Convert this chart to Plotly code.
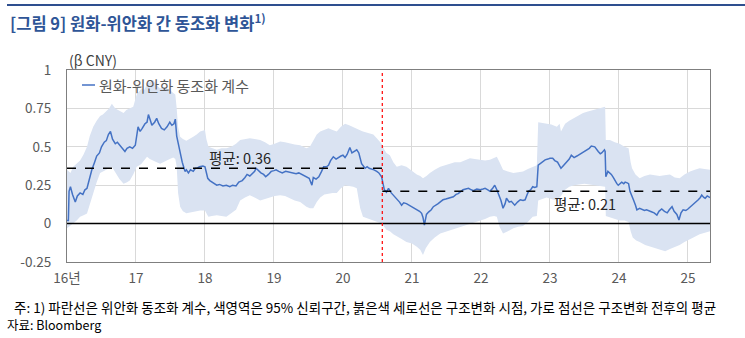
import plotly.graph_objects as go

# ---------------- data (decimal years) ----------------
line_x = [2016.00,2016.02,2016.03,2016.05,2016.08,2016.12,2016.15,2016.19,2016.23,2016.26,2016.29,2016.33,2016.36,2016.40,2016.43,2016.47,2016.50,2016.54,2016.57,2016.60,2016.63,2016.66,2016.70,2016.73,2016.77,2016.80,2016.84,2016.87,2016.91,2016.95,2016.99,
2017.03,2017.06,2017.09,2017.13,2017.16,2017.18,2017.21,2017.23,2017.27,2017.30,2017.33,2017.37,2017.41,2017.45,2017.49,2017.52,2017.55,2017.57,2017.59,2017.62,2017.64,2017.67,2017.69,2017.71,2017.73,2017.76,2017.79,2017.83,2017.86,2017.88,2017.92,2017.97,
2018.00,2018.02,2018.04,2018.07,2018.10,2018.13,2018.17,2018.21,2018.26,2018.31,2018.36,2018.40,2018.45,2018.49,2018.54,2018.58,2018.61,2018.65,2018.69,2018.72,2018.74,2018.78,2018.81,2018.85,2018.88,2018.92,2018.96,
2019.00,2019.03,2019.07,2019.12,2019.17,2019.22,2019.27,2019.32,2019.36,2019.41,2019.46,2019.51,2019.55,2019.57,2019.61,2019.65,2019.69,2019.72,2019.76,2019.79,2019.82,2019.86,2019.90,2019.93,2019.97,
2020.00,2020.03,2020.06,2020.10,2020.13,2020.17,2020.20,2020.23,2020.27,2020.32,2020.35,2020.38,2020.42,2020.45,2020.49,2020.52,2020.56,2020.58,2020.60,2020.63,2020.66,2020.70,2020.74,2020.78,2020.82,2020.85,2020.88,2020.92,2020.96,2020.99,
2021.03,2021.07,2021.11,2021.14,2021.16,2021.18,2021.20,2021.21,2021.24,2021.28,2021.31,2021.35,2021.38,2021.42,2021.45,2021.49,2021.53,2021.57,2021.60,2021.64,2021.67,2021.71,2021.74,2021.78,2021.82,2021.86,2021.89,2021.94,2021.99,
2022.03,2022.06,2022.10,2022.13,2022.17,2022.20,2022.23,2022.25,2022.29,2022.32,2022.35,2022.37,2022.41,2022.44,2022.47,2022.49,2022.53,2022.57,2022.61,2022.64,2022.67,2022.69,2022.72,2022.75,2022.78,2022.81,2022.83,2022.86,2022.90,2022.93,2022.97,
2023.00,2023.04,2023.07,2023.11,2023.14,2023.16,2023.20,2023.24,2023.28,2023.31,2023.35,2023.39,2023.43,2023.46,2023.50,2023.53,2023.57,2023.60,2023.65,2023.70,2023.73,2023.75,2023.79,2023.80,2023.81,2023.84,2023.87,2023.89,2023.92,2023.94,2023.97,2023.99,
2024.02,2024.04,2024.07,2024.09,2024.12,2024.14,2024.16,2024.19,2024.21,2024.24,2024.26,2024.30,2024.33,2024.37,2024.40,2024.44,2024.47,2024.51,2024.55,2024.58,2024.62,2024.66,2024.70,2024.73,2024.77,2024.80,2024.84,2024.87,2024.90,2024.93,2024.97,
2025.00,2025.04,2025.08,2025.11,2025.15,2025.18,2025.20,2025.23,2025.25,2025.28,2025.30,2025.32]
line_y = [0.02,0.02,0.21,0.24,0.19,0.14,0.18,0.20,0.19,0.22,0.23,0.30,0.35,0.40,0.44,0.46,0.50,0.53,0.54,0.58,0.60,0.55,0.52,0.53,0.51,0.49,0.47,0.49,0.50,0.49,0.51,
0.63,0.60,0.62,0.65,0.66,0.71,0.67,0.64,0.66,0.685,0.65,0.62,0.61,0.63,0.66,0.64,0.65,0.68,0.57,0.50,0.46,0.40,0.37,0.34,0.35,0.33,0.35,0.34,0.36,0.36,0.37,0.375,
0.37,0.33,0.295,0.28,0.27,0.26,0.25,0.255,0.245,0.25,0.24,0.25,0.245,0.27,0.28,0.30,0.32,0.31,0.33,0.34,0.36,0.34,0.33,0.32,0.305,0.32,0.34,
0.345,0.35,0.34,0.33,0.34,0.335,0.33,0.325,0.33,0.32,0.31,0.295,0.25,0.30,0.29,0.305,0.34,0.37,0.37,0.38,0.41,0.435,0.42,0.43,0.44,
0.445,0.43,0.45,0.495,0.46,0.47,0.48,0.46,0.39,0.36,0.37,0.36,0.355,0.35,0.34,0.33,0.305,0.26,0.22,0.205,0.23,0.20,0.18,0.165,0.14,0.12,0.135,0.13,0.12,0.11,
0.10,0.09,0.08,0.067,0.04,-0.01,0.05,0.06,0.075,0.09,0.11,0.12,0.13,0.145,0.155,0.16,0.165,0.17,0.175,0.19,0.195,0.21,0.22,0.225,0.23,0.22,0.215,0.225,0.22,
0.225,0.23,0.22,0.21,0.23,0.25,0.22,0.20,0.15,0.10,0.13,0.165,0.14,0.145,0.13,0.12,0.14,0.155,0.15,0.155,0.19,0.21,0.22,0.24,0.235,0.24,0.38,0.39,0.40,0.415,0.42,
0.425,0.425,0.41,0.40,0.38,0.36,0.38,0.40,0.42,0.445,0.43,0.44,0.45,0.46,0.47,0.48,0.49,0.505,0.50,0.47,0.455,0.46,0.48,0.47,0.305,0.34,0.33,0.32,0.30,0.28,0.26,0.25,
0.26,0.27,0.26,0.27,0.265,0.26,0.21,0.17,0.155,0.12,0.09,0.10,0.095,0.085,0.09,0.08,0.077,0.07,0.056,0.08,0.095,0.08,0.07,0.09,0.11,0.08,0.06,0.023,0.07,0.09,0.085,
0.095,0.11,0.13,0.14,0.155,0.17,0.186,0.17,0.165,0.18,0.175,0.17]

upper_x = [2016.00,2016.05,2016.09,2016.14,2016.19,2016.24,2016.29,2016.33,2016.38,2016.43,2016.48,2016.52,2016.57,2016.61,2016.65,2016.70,2016.74,2016.78,2016.82,2016.86,2016.91,2016.96,
2017.01,2017.05,2017.08,2017.12,2017.16,2017.20,2017.25,2017.30,2017.35,2017.40,2017.44,2017.49,2017.54,2017.57,2017.59,2017.61,2017.64,2017.68,2017.73,2017.78,2017.83,2017.88,2017.93,
2018.00,2018.02,2018.05,2018.10,2018.17,2018.24,2018.31,2018.38,2018.45,2018.51,2018.58,2018.65,2018.72,2018.80,2018.87,2018.94,
2019.01,2019.09,2019.16,2019.23,2019.30,2019.38,2019.47,2019.52,2019.57,2019.62,2019.67,2019.73,2019.79,2019.85,2019.91,2019.97,
2020.03,2020.09,2020.15,2020.20,2020.24,2020.29,2020.36,2020.44,2020.50,2020.56,2020.60,2020.63,2020.68,2020.73,2020.78,2020.85,2020.92,
2021.00,2021.07,2021.12,2021.16,2021.21,2021.26,2021.33,2021.41,2021.48,2021.55,2021.62,2021.70,2021.77,2021.84,2021.91,2021.99,
2022.06,2022.13,2022.19,2022.23,2022.27,2022.32,2022.39,2022.47,2022.54,2022.61,2022.68,2022.75,2022.81,2022.83,2022.89,2022.95,
2023.02,2023.10,2023.14,2023.16,2023.22,2023.28,2023.34,2023.41,2023.48,2023.55,2023.63,2023.70,2023.77,2023.80,2023.81,2023.87,2023.94,
2024.01,2024.08,2024.14,2024.17,2024.19,2024.24,2024.30,2024.37,2024.45,2024.52,2024.59,2024.66,2024.74,2024.81,2024.88,2024.95,
2025.03,2025.10,2025.17,2025.24,2025.32]
upper_y = [0.35,0.33,0.37,0.39,0.41,0.45,0.50,0.57,0.63,0.67,0.70,0.71,0.73,0.75,0.78,0.75,0.74,0.73,0.72,0.74,0.75,0.76,
0.84,0.86,0.88,0.87,0.91,0.92,0.935,0.90,0.88,0.89,0.88,0.87,0.85,0.84,0.75,0.63,0.565,0.55,0.54,0.55,0.565,0.58,0.60,
0.61,0.55,0.50,0.49,0.48,0.49,0.49,0.50,0.52,0.545,0.55,0.555,0.55,0.545,0.53,0.51,
0.52,0.535,0.53,0.52,0.515,0.51,0.49,0.50,0.545,0.58,0.60,0.61,0.62,0.61,0.60,0.63,
0.65,0.64,0.63,0.62,0.61,0.60,0.59,0.58,0.55,0.52,0.48,0.46,0.445,0.40,0.37,0.38,0.37,
0.34,0.32,0.31,0.295,0.31,0.33,0.35,0.37,0.38,0.39,0.40,0.40,0.41,0.425,0.42,0.415,
0.41,0.415,0.43,0.435,0.40,0.35,0.34,0.33,0.335,0.34,0.355,0.37,0.38,0.66,0.655,0.65,
0.645,0.63,0.65,0.60,0.65,0.67,0.685,0.70,0.72,0.73,0.74,0.75,0.76,0.76,0.545,0.545,0.53,
0.52,0.50,0.49,0.40,0.36,0.32,0.295,0.31,0.32,0.315,0.31,0.315,0.32,0.30,0.295,0.32,
0.34,0.35,0.36,0.355,0.35]

lower_x = [2016.00,2016.05,2016.09,2016.14,2016.19,2016.24,2016.29,2016.33,2016.38,2016.43,2016.48,2016.52,2016.57,2016.61,2016.65,2016.70,2016.76,2016.82,2016.87,2016.91,2016.96,
2017.01,2017.05,2017.08,2017.12,2017.16,2017.20,2017.25,2017.30,2017.35,2017.40,2017.44,2017.49,2017.54,2017.57,2017.59,2017.61,2017.64,2017.68,2017.73,2017.78,2017.83,2017.88,2017.93,
2018.00,2018.03,2018.05,2018.10,2018.17,2018.24,2018.31,2018.38,2018.45,2018.51,2018.58,2018.65,2018.72,2018.80,2018.87,2018.94,
2019.01,2019.09,2019.16,2019.23,2019.30,2019.38,2019.47,2019.52,2019.57,2019.62,2019.67,2019.73,2019.79,2019.85,2019.91,2019.97,
2020.03,2020.09,2020.15,2020.20,2020.23,2020.25,2020.29,2020.36,2020.44,2020.50,2020.56,2020.63,2020.68,2020.73,2020.78,2020.85,2020.92,
2021.00,2021.07,2021.12,2021.16,2021.20,2021.26,2021.33,2021.41,2021.48,2021.55,2021.62,2021.70,2021.77,2021.84,2021.91,2021.99,
2022.06,2022.13,2022.19,2022.23,2022.27,2022.32,2022.39,2022.47,2022.54,2022.61,2022.68,2022.75,2022.81,2022.83,2022.89,2022.95,
2023.02,2023.10,2023.16,2023.22,2023.28,2023.35,2023.42,2023.50,2023.58,2023.65,2023.72,2023.80,2023.81,2023.87,2023.94,
2024.01,2024.08,2024.14,2024.17,2024.20,2024.25,2024.30,2024.38,2024.45,2024.52,2024.59,2024.67,2024.74,2024.81,2024.88,2024.95,
2025.03,2025.10,2025.17,2025.24,2025.32]
lower_y = [-0.03,-0.01,0.00,0.02,0.045,0.055,0.065,0.13,0.20,0.27,0.33,0.34,0.35,0.36,0.37,0.33,0.29,0.26,0.27,0.28,0.32,
0.37,0.38,0.39,0.41,0.435,0.42,0.41,0.40,0.39,0.40,0.41,0.42,0.43,0.42,0.37,0.20,0.11,0.08,0.067,0.07,0.075,0.08,0.085,
0.085,0.06,0.045,0.05,0.055,0.05,0.045,0.07,0.09,0.15,0.17,0.185,0.17,0.15,0.16,0.17,
0.18,0.185,0.18,0.165,0.15,0.14,0.11,0.10,0.10,0.14,0.17,0.19,0.195,0.20,0.20,0.23,
0.25,0.245,0.24,0.23,0.15,0.10,0.045,0.03,0.02,0.01,0.00,-0.04,-0.05,-0.07,-0.085,-0.10,-0.12,
-0.13,-0.15,-0.17,-0.205,-0.16,-0.12,-0.09,-0.065,-0.05,-0.04,-0.03,-0.02,-0.01,0.00,0.01,0.02,
0.03,0.045,0.05,0.045,-0.02,-0.065,-0.05,-0.03,-0.02,-0.015,0.01,0.045,0.05,0.15,0.16,0.17,
0.16,0.15,0.18,0.22,0.24,0.25,0.255,0.26,0.255,0.25,0.245,0.24,0.05,0.04,0.03,
0.02,0.02,0.01,-0.05,-0.09,-0.11,-0.12,-0.14,-0.15,-0.16,-0.17,-0.18,-0.165,-0.15,-0.14,-0.12,
-0.10,-0.085,-0.07,-0.06,-0.05]

break_point = 2020.57
mean_before = 0.36
mean_after = 0.21
year_ticks = [2016, 2017, 2018, 2019, 2020, 2021, 2022, 2023, 2024, 2025]
year_labels = ["16년", "17", "18", "19", "20", "21", "22", "23", "24", "25"]
y_ticks = [-0.25, 0, 0.25, 0.5, 0.75, 1]
y_labels = ["-0.25", "0", "0.25", "0.5", "0.75", "1"]

X0, X1 = 2016.0, 2025.32
FONT = "Noto Sans CJK KR, Noto Sans, sans-serif"
L, R, T, B = 67, 35, 70, 76
W, H = 745, 338
PW, PH = W - L - R, H - T - B

def px(xp):
    return (xp - L) / PW

def py(yp):
    return (H - B - yp) / PH

fig = go.Figure()

# confidence band
fig.add_trace(go.Scatter(
    x=upper_x + lower_x[::-1], y=upper_y + lower_y[::-1],
    fill="toself", fillcolor="rgb(218,227,242)", line=dict(width=0),
    mode="lines", hoverinfo="skip", showlegend=False))

# coefficient line
fig.add_trace(go.Scatter(
    x=line_x, y=line_y, mode="lines",
    line=dict(color="rgb(68,114,196)", width=1.5),
    name="원화-위안화 동조화 계수", showlegend=False))

shapes = [
    dict(type="line", xref="x", yref="y", x0=X0, x1=X1, y0=0, y1=0,
         line=dict(color="black", width=1.5), layer="above"),
    dict(type="line", xref="x", yref="y", x0=X0, x1=break_point, y0=mean_before, y1=mean_before,
         line=dict(color="black", width=1.5, dash="dash"), layer="above"),
    dict(type="line", xref="x", yref="y", x0=break_point, x1=X1, y0=mean_after, y1=mean_after,
         line=dict(color="black", width=1.5, dash="dash"), layer="above"),
    dict(type="line", xref="x", yref="paper", x0=break_point, x1=break_point, y0=0, y1=1,
         line=dict(color="red", width=1.2, dash="dot"), layer="above"),
    # legend line
    dict(type="line", xref="paper", yref="paper", x0=px(82), x1=px(95), y0=py(85), y1=py(85),
         line=dict(color="rgb(68,114,196)", width=1.5)),
    # top rule
    dict(type="line", xref="paper", yref="paper", x0=px(7), x1=px(745), y0=py(5), y1=py(5),
         line=dict(color="#2E4F8F", width=2)),
]

annotations = [
    dict(text="[그림 9] 원화-위안화 간 동조화 변화<sup>1)</sup>", x=px(8), y=py(22), xref="paper", yref="paper",
         xanchor="left", yanchor="middle", showarrow=False,
         font=dict(family=FONT, size=16.5, color="#2E5597", weight="bold")),
    dict(text="(β CNY)", x=px(67), y=py(60), xref="paper", yref="paper",
         xanchor="left", yanchor="middle", showarrow=False,
         font=dict(family=FONT, size=14, color="#404040")),
    dict(text="원화-위안화 동조화 계수", x=px(97), y=py(85), xref="paper", yref="paper",
         xanchor="left", yanchor="middle", showarrow=False,
         font=dict(family=FONT, size=15, color="#595959")),
    dict(text="평균: 0.36", x=px(240), y=py(157), xref="paper", yref="paper",
         xanchor="center", yanchor="middle", showarrow=False,
         font=dict(family=FONT, size=14.5, color="#262626")),
    dict(text="평균: 0.21", x=px(585), y=py(203), xref="paper", yref="paper",
         xanchor="center", yanchor="middle", showarrow=False,
         font=dict(family=FONT, size=14.5, color="#262626")),
    dict(text="주: 1) 파란선은 위안화 동조화 계수, 색영역은 95% 신뢰구간, 붉은색 세로선은 구조변화 시점, 가로 점선은 구조변화 전후의 평균",
         x=px(12), y=py(307), xref="paper", yref="paper",
         xanchor="left", yanchor="middle", showarrow=False,
         font=dict(family=FONT, size=13.5, color="black")),
    dict(text="자료: Bloomberg", x=px(5), y=py(324), xref="paper", yref="paper",
         xanchor="left", yanchor="middle", showarrow=False,
         font=dict(family=FONT, size=12.5, color="black")),
]

fig.update_layout(
    width=W, height=H, margin=dict(l=L, r=R, t=T, b=B),
    paper_bgcolor="white", plot_bgcolor="white",
    shapes=shapes, annotations=annotations, showlegend=False,
    font=dict(family=FONT, size=13, color="#595959"),
)
fig.update_xaxes(range=[X0, X1], tickvals=year_ticks, ticktext=year_labels,
                 showgrid=True, gridcolor="#D9D9D9", gridwidth=1,
                 showline=True, linecolor="#7F7F7F", linewidth=1.2, mirror=True,
                 zeroline=False, ticks="", ticklabelstandoff=4,
                 tickfont=dict(size=13.5, color="#595959"))
fig.update_yaxes(range=[-0.25, 1], tickvals=y_ticks, ticktext=y_labels,
                 showgrid=True, gridcolor="#D9D9D9", gridwidth=1,
                 showline=True, linecolor="#7F7F7F", linewidth=1.2, mirror=True,
                 zeroline=False, ticks="", ticklabelstandoff=12,
                 tickfont=dict(size=13.5, color="#595959"))

fig.write_html("out.html")
